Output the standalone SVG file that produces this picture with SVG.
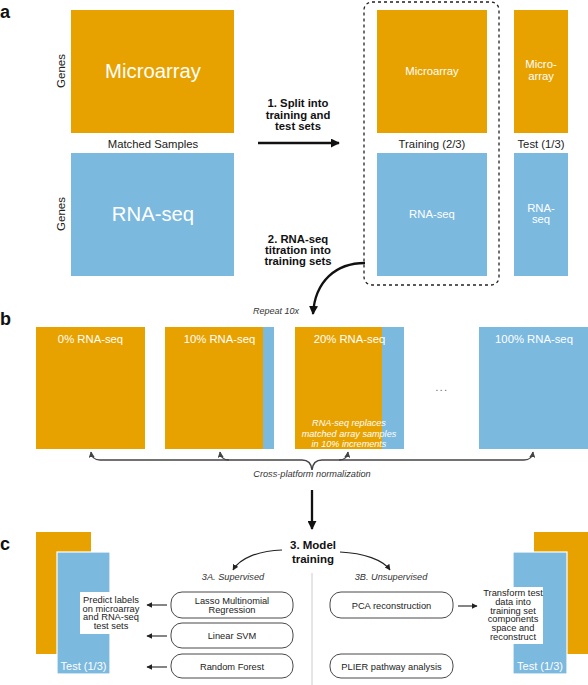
<svg xmlns="http://www.w3.org/2000/svg" width="588" height="685" viewBox="0 0 588 685">
<defs>
<style>
text{font-family:"Liberation Sans",Arial,sans-serif;}
.or{fill:#E8A200;}
.bl{fill:#7BB9DF;}
.pl{font-weight:bold;font-size:18px;fill:#111;}
.big{font-size:20.3px;fill:#fff;text-anchor:middle;}
.wm{font-size:11.3px;fill:#fff;text-anchor:middle;}
.dk{font-size:11.3px;fill:#222;text-anchor:middle;}
.bd{font-size:11.3px;font-weight:bold;fill:#111;text-anchor:middle;}
.it{font-size:9.2px;font-style:italic;fill:#333;text-anchor:middle;}
.wi{font-size:9.1px;font-style:italic;fill:#fff;text-anchor:middle;}
.sm{font-size:9.3px;fill:#222;text-anchor:middle;}
.pill{fill:#fff;stroke:#333;stroke-width:0.9;}
.thick{fill:none;stroke:#111;stroke-width:2.3;}
.thin{fill:none;stroke:#222;stroke-width:1.1;}
.br{fill:none;stroke:#444;stroke-width:1.5;}
</style>
<marker id="ah" viewBox="0 0 10 10" refX="9" refY="5" markerWidth="9" markerHeight="9" markerUnits="userSpaceOnUse" orient="auto"><path d="M0,0 L10,5 L0,10 Z" fill="#111"/></marker>
<marker id="ahs" viewBox="0 0 10 10" refX="9" refY="5" markerWidth="6" markerHeight="6" markerUnits="userSpaceOnUse" orient="auto"><path d="M0,0 L10,5 L0,10 Z" fill="#222"/></marker>
<marker id="ahb" viewBox="0 0 10 10" refX="9" refY="5" markerWidth="6" markerHeight="6" markerUnits="userSpaceOnUse" orient="auto"><path d="M0,0 L10,5 L0,10 Z" fill="#444"/></marker>
</defs>

<g id="panel-labels">
<text class="pl" x="0" y="18">a</text>
<text class="pl" x="0" y="325">b</text>
<text class="pl" x="0" y="550">c</text>
</g>

<g id="full-microarray">
<rect class="or" x="71" y="10" width="163" height="123"/>
<text class="big" x="153" y="78">Microarray</text>
<text class="dk" transform="translate(65,71) rotate(-90)" style="font-size:11.5px">Genes</text>
</g>
<text id="matched-samples" class="dk" x="153" y="148">Matched Samples</text>
<g id="full-rnaseq">
<rect class="bl" x="71" y="153" width="163" height="123"/>
<text class="big" x="153" y="221">RNA-seq</text>
<text class="dk" transform="translate(65,214) rotate(-90)" style="font-size:11.5px">Genes</text>
</g>

<g id="training-set">
<rect x="364" y="2" width="135" height="283" rx="8" fill="none" stroke="#222" stroke-width="1.3" stroke-dasharray="3,3"/>
<rect class="or" x="377" y="10" width="110" height="123"/>
<text class="wm" x="432" y="75">Microarray</text>
<text class="dk" x="432" y="148">Training (2/3)</text>
<rect class="bl" x="377" y="153" width="110" height="123"/>
<text class="wm" x="432" y="218">RNA-seq</text>
</g>

<g id="test-set">
<rect class="or" x="514" y="10" width="54" height="123"/>
<text class="wm" x="541" y="68">Micro-</text>
<text class="wm" x="541" y="79.5">array</text>
<text class="dk" x="541" y="148">Test (1/3)</text>
<rect class="bl" x="514" y="153" width="54" height="123"/>
<text class="wm" x="541" y="211.5">RNA-</text>
<text class="wm" x="541" y="223">seq</text>
</g>

<g id="step-labels">
<text class="bd" x="298" y="107">1. Split into</text>
<text class="bd" x="298" y="118.5">training and</text>
<text class="bd" x="298" y="130">test sets</text>
<text class="bd" x="298" y="243">2. RNA-seq</text>
<text class="bd" x="298" y="254">titration into</text>
<text class="bd" x="298" y="265">training sets</text>
<text class="it" x="299" y="314" style="text-anchor:end;font-size:9px">Repeat 10x</text>
</g>

<g id="titration-0">
<rect class="or" x="36" y="327" width="109" height="122"/>
<text class="wm" x="90.5" y="343">0% RNA-seq</text>
</g>
<g id="titration-10">
<rect class="or" x="165" y="327" width="98" height="122"/>
<rect class="bl" x="263" y="327" width="11" height="122"/>
<text class="wm" x="219.5" y="343">10% RNA-seq</text>
</g>
<g id="titration-20">
<rect class="or" x="295" y="327" width="87" height="122"/>
<rect class="bl" x="382" y="327" width="22" height="122"/>
<text class="wm" x="349.5" y="343">20% RNA-seq</text>
<text class="wi" x="349" y="426">RNA-seq replaces</text>
<text class="wi" x="349" y="436.5">matched array samples</text>
<text class="wi" x="349" y="447">in 10% increments</text>
</g>
<text id="ellipsis" x="442" y="391" style="font-size:10px;fill:#555;text-anchor:middle;letter-spacing:1.5px">...</text>
<g id="titration-100">
<rect class="bl" x="479" y="327" width="109" height="122"/>
<text class="wm" x="534" y="343">100% RNA-seq</text>
</g>
<text id="cross-platform" class="it" x="312" y="477">Cross-platform normalization</text>

<g id="model-training">
<text class="bd" x="313" y="549" style="font-size:11.5px">3. Model</text>
<text class="bd" x="313" y="562.5" style="font-size:11.5px">training</text>
<text class="it" x="233" y="580">3A. Supervised</text>
<text class="it" x="391" y="580">3B. Unsupervised</text>
<line x1="312" y1="573" x2="312" y2="685" stroke="#ccc" stroke-width="1"/>
</g>

<g id="lasso"><rect class="pill" x="171" y="592" width="122" height="26" rx="11"/><text class="sm" x="232" y="604">Lasso Multinomial</text><text class="sm" x="232" y="613">Regression</text></g>
<g id="svm"><rect class="pill" x="171" y="623" width="122" height="25" rx="11"/><text class="sm" x="232" y="639">Linear SVM</text></g>
<g id="rf"><rect class="pill" x="171" y="654" width="122" height="24" rx="11"/><text class="sm" x="232" y="670">Random Forest</text></g>
<g id="pca"><rect class="pill" x="330" y="592" width="123" height="26" rx="11"/><text class="sm" x="391.5" y="609">PCA reconstruction</text></g>
<g id="plier"><rect class="pill" x="330" y="654" width="123" height="24" rx="11"/><text class="sm" x="391.5" y="670">PLIER pathway analysis</text></g>

<g id="test-left">
<rect class="or" x="36" y="532" width="55" height="122"/>
<rect class="bl" x="57" y="552" width="53" height="122" stroke="#fff" stroke-width="1.2"/>
<rect x="80" y="592" width="33" height="42" fill="#fff"/>
<text class="sm" x="111" y="603">Predict labels</text>
<text class="sm" x="111" y="611.7">on microarray</text>
<text class="sm" x="111" y="620.4">and RNA-seq</text>
<text class="sm" x="111" y="629">test sets</text>
<text class="wm" x="83.5" y="670" style="font-size:11px">Test (1/3)</text>
</g>
<g id="test-right">
<rect class="or" x="534" y="532" width="54" height="122"/>
<rect class="bl" x="513" y="552" width="54" height="122" stroke="#fff" stroke-width="1.2"/>
<rect x="480" y="587" width="63" height="57" fill="#fff"/>
<text class="sm" x="513" y="596">Transform test</text>
<text class="sm" x="513" y="604.8">data into</text>
<text class="sm" x="513" y="613.6">training set</text>
<text class="sm" x="513" y="622.4">components</text>
<text class="sm" x="513" y="631.2">space and</text>
<text class="sm" x="513" y="640">reconstruct</text>
<text class="wm" x="540" y="670" style="font-size:11px">Test (1/3)</text>
</g>

<g id="connectors">
<line class="thick" x1="258" y1="143" x2="339" y2="143" marker-end="url(#ah)"/>
<path class="thick" d="M365,263 C336,263 315,281 313,314" marker-end="url(#ah)"/>
<path class="br" d="M302,460 L100,460 Q92,460 91,452" marker-end="url(#ahb)"/>
<path class="br" d="M229,460 Q221,460 220,452" marker-end="url(#ahb)"/>
<path class="br" d="M339,460 Q347,460 348,452" marker-end="url(#ahb)"/>
<path class="br" d="M322,460 L524,460 Q532,460 533,452" marker-end="url(#ahb)"/>
<path class="br" d="M302,460 Q311,460 312,470 Q313,460 322,460"/>
<line class="thick" x1="312" y1="490" x2="312" y2="529" marker-end="url(#ah)"/>
<path class="thin" d="M282,550 C258,551 240,558 233,570" marker-end="url(#ahs)"/>
<path class="thin" d="M340,552 C364,553 383,560 390,570" marker-end="url(#ahs)"/>
<line class="thin" x1="167" y1="605" x2="147" y2="605" marker-end="url(#ahs)"/>
<line class="thin" x1="167" y1="636" x2="147" y2="636" marker-end="url(#ahs)"/>
<line class="thin" x1="167" y1="667" x2="147" y2="667" marker-end="url(#ahs)"/>
<line class="thin" x1="458" y1="606" x2="477" y2="606" marker-end="url(#ahs)"/>
</g>
</svg>
